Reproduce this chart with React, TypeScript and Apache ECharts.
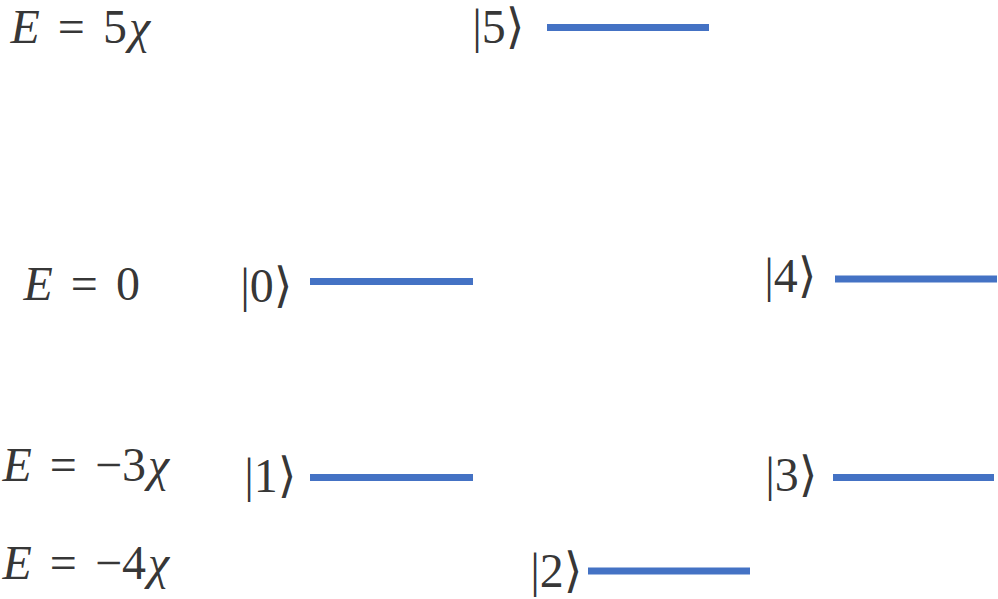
import { useEffect, useRef } from 'react';
import * as echarts from 'echarts';

// energy levels: state index, horizontal extent, drawn height (diagram units)
const stateNames = ['0', '1', '2', '3', '4', '5'];
const levelStart = [310, 310, 588, 833, 835, 547];
const levelEnd = [473, 473, 750, 994, 997, 709];
const levelHeight = [0, -3.86, -5.7, -3.86, 0.05, 5];

// energy annotations on the left, in units of chi
const energyCoef = [5, 0, -3, -4];
const energyX = [10, 23, 2, 2];
const energyHeight = [5.01, -0.03, -3.61, -5.54];

const SERIF = '"Liberation Serif", "DejaVu Serif", serif';
const BLUE = '#4472C4';

// label tweaks per ket (gap to the line, vertical nudge)
const ketGap: Record<string, number> = { '0': 17, '1': 13, '2': 5, '3': 15, '4': 18, '5': 22 };
const ketNudge: Record<string, number> = { '0': 4, '1': -2, '2': -1, '3': -3, '4': -3, '5': -1 };

export default function App() {
  const chartRef = useRef<HTMLDivElement>(null);

  useEffect(() => {
    if (!chartRef.current) return;
    document.body.style.margin = '0';
    const chart = echarts.init(chartRef.current, null, { renderer: 'svg' });

    const levelSeries = stateNames.map((s, i) => ({
      type: 'line',
      name: `level ${s}`,
      data: [
        [levelStart[i], levelHeight[i]],
        [levelEnd[i], levelHeight[i]],
      ],
      symbol: 'none',
      clip: false,
      silent: true,
      lineStyle: { color: BLUE, width: 7, cap: 'butt' },
    }));

    const ketSeries = {
      type: 'scatter',
      name: 'kets',
      symbolSize: 1,
      silent: true,
      clip: false,
      itemStyle: { color: 'rgba(0,0,0,0)' },
      data: stateNames.map((s, i) => ({
        value: [levelStart[i], levelHeight[i]],
        label: {
          show: true,
          position: 'left',
          distance: ketGap[s],
          offset: [0, ketNudge[s]],
          formatter: `|${s}\u27E9`,
          fontFamily: SERIF,
          fontSize: 48,
          lineHeight: 42,
          color: '#000',
        },
      })),
    };

    const txt = { fontFamily: SERIF, fontSize: 48, lineHeight: 40, color: '#000' };
    const energySeries = {
      type: 'scatter',
      name: 'energies',
      symbolSize: 1,
      silent: true,
      clip: false,
      itemStyle: { color: 'rgba(0,0,0,0)' },
      data: energyCoef.map((c, i) => {
        const num = c === 0 ? '0' : `${c < 0 ? '\u2212' : ''}${Math.abs(c)}`;
        return {
          value: [energyX[i], energyHeight[i]],
          label: {
            show: true,
            position: 'right',
            distance: 0,
            formatter: `{i|E}{eq|=}{n|${num}}${c === 0 ? '' : '{i|\u03C7}'}`,
            rich: {
              i: { ...txt, fontStyle: 'italic' },
              eq: { ...txt, padding: [0, 18] },
              n: { ...txt, padding: [0, 2, 0, 0] },
            },
          },
        };
      }),
    };

    chart.setOption({
      animation: false,
      backgroundColor: '#fff',
      grid: { left: 0, right: 0, top: 27.5, bottom: 12.7, containLabel: false },
      xAxis: { type: 'value', min: 0, max: 998, show: false },
      yAxis: { type: 'value', min: -6, max: 5, show: false },
      series: [...levelSeries, ketSeries, energySeries],
    });

    return () => {
      chart.dispose();
    };
  }, []);

  return <div ref={chartRef} style={{ width: '998px', height: '599px' }} />;
}
